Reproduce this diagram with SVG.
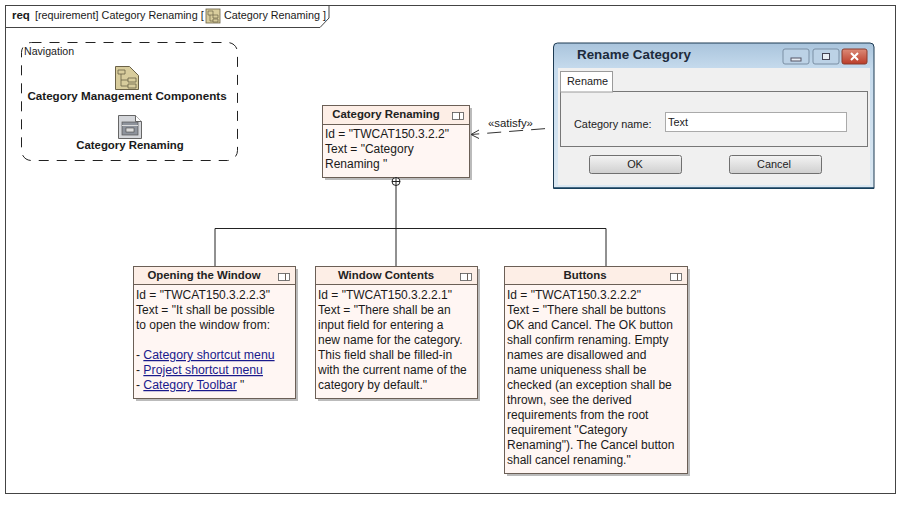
<svg xmlns="http://www.w3.org/2000/svg" width="910" height="508" viewBox="0 0 910 508">
<style>
text{font-family:"Liberation Sans",Arial,sans-serif;font-size:12px;fill:#1a1a1a}
.t{font-weight:bold;font-size:11.4px;text-anchor:middle;fill:#222}
.b{font-size:12px}
.lnk{fill:#1a1a8c;text-decoration:underline;font-size:12.3px}
.box{fill:#fff6f3;stroke:#6b5f56;stroke-width:1}
.hd{fill:#fdeee6}
.sep{stroke:#6b5f56;stroke-width:1;fill:none}
.sh{fill:#bbb}
.ic{fill:#fff;stroke:#555;stroke-width:.8}
.ln{stroke:#222;stroke-width:1;fill:none}
.ui{font-size:10.9px;fill:#222}
</style>
<defs>
<linearGradient id="tb" x1="0" y1="0" x2="0" y2="1"><stop offset="0" stop-color="#a9c4dc"/><stop offset=".18" stop-color="#c6dbed"/><stop offset="1" stop-color="#dbe8f2"/></linearGradient>
<linearGradient id="btn" x1="0" y1="0" x2="0" y2="1"><stop offset="0" stop-color="#f4f4f4"/><stop offset="1" stop-color="#cfcfcf"/></linearGradient>
<linearGradient id="cl" x1="0" y1="0" x2="0" y2="1"><stop offset="0" stop-color="#dc8b78"/><stop offset="1" stop-color="#bb3d2a"/></linearGradient>
</defs>
<rect width="910" height="508" fill="#fff"/>
<g id="frame">
<rect x="5.500" y="5.500" width="890" height="488" fill="none" stroke="#444"/>
<path d="M5.500 27.500H320L329 18V5.500" fill="none" stroke="#444"/>
<text x="12" y="18.500" style="font-weight:bold;font-size:11.500px">req</text>
<text x="35" y="18.500" style="font-size:10.800px">[requirement]  Category Renaming [</text>
<rect x="206" y="9" width="14" height="14" fill="#d8cc9c" stroke="#6b6248" stroke-width=".8"/>
<path d="M208 11h5v4h-5zM213 15h5v3h-5zM213 19h5v3h-5zM210 15v6h3" fill="none" stroke="#6b6248" stroke-width=".7"/>
<text x="224" y="18.500" style="font-size:10.800px">Category Renaming ]</text>
</g>
<g id="navigation">
<rect x="21.500" y="42.500" width="216" height="118" rx="10" fill="#fff" stroke="#222" stroke-dasharray="10 8"/>
<text x="24" y="55" style="font-size:10.600px">Navigation</text>
<path d="M115.500 66.500h14l9 9v14h-23z" fill="#d8cc9c" stroke="#6b6248"/>
<path d="M118 70h7v4h-7zM128 78h8v4h-8zM128 84h8v4h-8zM121 74v12h7M121 80h7" fill="none" stroke="#6b6248" stroke-width=".8"/>
<text x="127" y="100" style="font-weight:bold;font-size:11.650px;text-anchor:middle">Category Management Components</text>
<path d="M118.500 115.500h17l6 6v17h-23z" fill="#d4d6da" stroke="#666"/>
<path d="M135.500 115.500v6h6" fill="#fff" stroke="#666"/>
<rect x="122" y="122" width="16" height="13" fill="#8e939c" stroke="#555" stroke-width=".7"/>
<rect x="122" y="125" width="16" height="1" fill="#dcdcdc"/>
<rect x="126" y="128" width="8" height="4" fill="#dcdcdc" stroke="#444" stroke-width=".6"/>
<text x="130" y="149" style="font-weight:bold;font-size:11.400px;text-anchor:middle">Category Renaming</text>
</g>
<g id="req-category-renaming">
<rect class="sh" x="325" y="108" width="147" height="72"/>
<rect class="box" x="322.500" y="105.500" width="147" height="72"/>
<rect class="hd" x="323" y="106" width="146" height="18"/>
<path class="sep" d="M322.500 124.500h147"/>
<text class="t" x="386" y="118">Category Renaming</text>
<rect class="ic" x="452.500" y="112.500" width="11" height="7"/><path class="sep" d="M459.500 112.500v7"/>
<text class="b" x="325" y="138">Id = "TWCAT150.3.2.2"</text>
<text class="b" x="325" y="153">Text = "Category</text>
<text class="b" x="325" y="168">Renaming "</text>
</g>
<g id="req-opening-window">
<rect class="sh" x="136" y="269" width="162" height="132"/>
<rect class="box" x="133.500" y="266.500" width="162" height="132"/>
<rect class="hd" x="134" y="267" width="161" height="17"/>
<path class="sep" d="M133.500 284.500h162"/>
<text class="t" x="204" y="279">Opening the Window</text>
<rect class="ic" x="278.500" y="273.500" width="11" height="7"/><path class="sep" d="M285.500 273.500v7"/>
<text class="b" x="136" y="299">Id = "TWCAT150.3.2.2.3"</text>
<text class="b" x="136" y="314">Text = "It shall be possible</text>
<text class="b" x="136" y="329">to open the window from:</text>
<text class="b" x="136" y="359">- <tspan class="lnk">Category shortcut menu</tspan></text>
<text class="b" x="136" y="374">- <tspan class="lnk">Project shortcut menu</tspan></text>
<text class="b" x="136" y="389">- <tspan class="lnk">Category Toolbar</tspan> "</text>
</g>
<g id="req-window-contents">
<rect class="sh" x="318" y="269" width="162" height="132"/>
<rect class="box" x="315.500" y="266.500" width="162" height="132"/>
<rect class="hd" x="316" y="267" width="161" height="17"/>
<path class="sep" d="M315.500 284.500h162"/>
<text class="t" x="386" y="279">Window Contents</text>
<rect class="ic" x="460.500" y="273.500" width="11" height="7"/><path class="sep" d="M467.500 273.500v7"/>
<text class="b" x="318" y="299">Id = "TWCAT150.3.2.2.1"</text>
<text class="b" x="318" y="314">Text = "There shall be an</text>
<text class="b" x="318" y="329">input field for entering a</text>
<text class="b" x="318" y="344">new name for the category.</text>
<text class="b" x="318" y="359">This field shall be filled-in</text>
<text class="b" x="318" y="374">with the current name of the</text>
<text class="b" x="318" y="389">category by default."</text>
</g>
<g id="req-buttons">
<rect class="sh" x="507" y="269" width="183" height="207"/>
<rect class="box" x="504.500" y="266.500" width="183" height="207"/>
<rect class="hd" x="505" y="267" width="182" height="17"/>
<path class="sep" d="M504.500 284.500h183"/>
<text class="t" x="585" y="279">Buttons</text>
<rect class="ic" x="670.500" y="273.500" width="11" height="7"/><path class="sep" d="M677.500 273.500v7"/>
<text class="b" x="507" y="299">Id = "TWCAT150.3.2.2.2"</text>
<text class="b" x="507" y="314">Text = "There shall be buttons</text>
<text class="b" x="507" y="329">OK and Cancel. The OK button</text>
<text class="b" x="507" y="344">shall confirm renaming. Empty</text>
<text class="b" x="507" y="359">names are disallowed and</text>
<text class="b" x="507" y="374">name uniqueness shall be</text>
<text class="b" x="507" y="389">checked (an exception shall be</text>
<text class="b" x="507" y="404">thrown, see the derived</text>
<text class="b" x="507" y="419">requirements from the root</text>
<text class="b" x="507" y="434">requirement "Category</text>
<text class="b" x="507" y="449">Renaming"). The Cancel button</text>
<text class="b" x="507" y="464">shall cancel renaming."</text>
</g>
<g id="dialog">
<path d="M553.500 188.500V47q0-4 4-4H870q4 0 4 4V188.500z" fill="url(#tb)" stroke="#1d3a52"/>
<rect x="558" y="68" width="312" height="117" fill="#f0f0f0"/>
<path d="M554 188h320" stroke="#15415f" stroke-width="1.500"/>
<text x="577" y="59" style="font-weight:bold;font-size:13.400px;fill:#1d2b3c">Rename Category</text>
<rect x="783" y="49" width="26" height="15" rx="2" fill="#bcd2e6" stroke="#7a8fa4"/><rect x="791" y="58" width="10" height="3" fill="#e8eef4" stroke="#556"/>
<rect x="813" y="49" width="26" height="15" rx="2" fill="#bcd2e6" stroke="#7a8fa4"/><rect x="822.500" y="53.500" width="7" height="6" fill="#e8eef4" stroke="#445" stroke-width="1"/>
<rect x="842" y="49" width="25" height="15" rx="2" fill="url(#cl)" stroke="#8a3b2c"/>
<path d="M851 53l7 7M858 53l-7 7" stroke="#fff" stroke-width="2"/>
<rect x="560.500" y="91.500" width="307" height="55" fill="#f0f0f0" stroke="#777"/>
<rect x="560.500" y="71.500" width="52" height="20.500" fill="#fff" stroke="#9a9a9a"/>
<text class="ui" x="567" y="85">Rename</text>
<text class="ui" x="574" y="128">Category name:</text>
<rect x="665.500" y="112.500" width="181" height="19" fill="#fff" stroke="#aaa"/>
<text class="ui" x="668" y="126">Text</text>
<rect x="589.500" y="155.500" width="92" height="18" rx="2" fill="url(#btn)" stroke="#707070"/>
<text class="ui" x="635" y="168" text-anchor="middle">OK</text>
<rect x="729.500" y="155.500" width="92" height="18" rx="2" fill="url(#btn)" stroke="#707070"/>
<text class="ui" x="774" y="168" text-anchor="middle">Cancel</text>
</g>
<g id="connectors">
<path class="ln" d="M396 185V266M215 266V228.500H606V266"/>
<circle cx="396" cy="181.500" r="4" fill="#fff" stroke="#222"/>
<path class="ln" d="M392 181.500h8M396 177.500v8"/>
<path d="M553 128L471 134.500" fill="none" stroke="#333" stroke-dasharray="14 8" stroke-dashoffset="14"/>
<path d="M479 130L471 134.500L479 138.500" fill="none" stroke="#333"/>
<text x="488" y="127" style="font-size:11.400px">«satisfy»</text>
</g>
</svg>
